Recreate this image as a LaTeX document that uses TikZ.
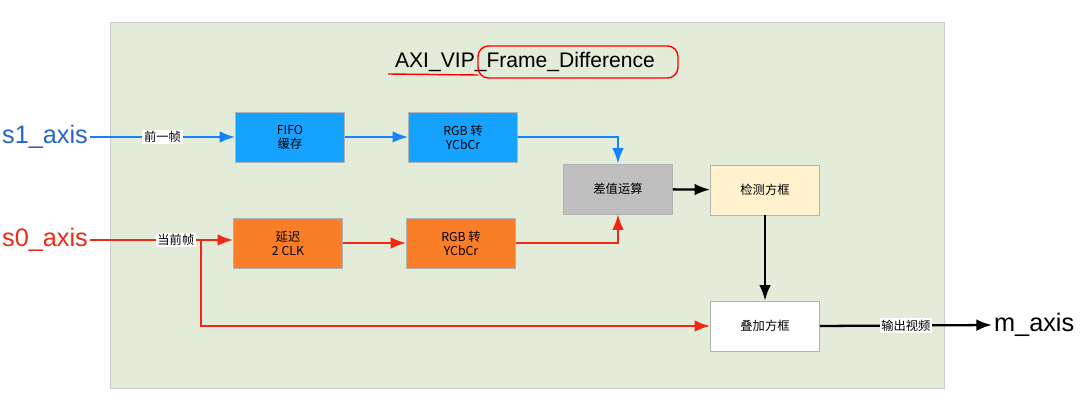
\documentclass[tikz,border=0pt]{standalone}
\usepackage{fontspec}
\setmainfont{Liberation Sans}
\newfontfamily\cjk{Noto Sans CJK SC}
\usetikzlibrary{arrows.meta}
\definecolor{bgreen}{RGB}{226,236,216}
\definecolor{fifoblue}{RGB}{22,163,255}
\definecolor{dlyorange}{RGB}{250,125,40}
\definecolor{diffgray}{RGB}{191,191,191}
\definecolor{detyellow}{RGB}{255,242,204}
\definecolor{sblue}{RGB}{40,100,200}
\definecolor{sred}{RGB}{240,40,20}
\begin{document}
\begin{tikzpicture}[x=0.02cm, y=-0.02cm, font=\cjk\scriptsize, >=Latex]
    \tikzset{blk/.style = {draw=gray!60, minimum width=2.18cm, minimum height=1cm, align=center, inner sep=1pt}}
    \tikzset{blue_arrow/.style = {->, fifoblue!80!blue, line width=1.3pt}}
    \tikzset{red_arrow/.style = {->, sred, line width=1.3pt}}
    \tikzset{black_arrow/.style = {->, black, line width=1.3pt}}
    \tikzset{lbl/.style = {fill=white, inner sep=1pt, text=black}}

    \useasboundingbox (0,0) rectangle (1088,418);
    \fill[bgreen] (110,22) rectangle (944,388);
    \draw[gray!40] (110,22) rectangle (944,388);

    \node[font=\large] (title) at (525,62) {AXI\_VIP\_Frame\_Difference};
    \draw[red, thick, rounded corners=6pt] (478,46) rectangle (678,78);
    \draw[red, thick] (388,74) -- (478,75);

    \node[blk, fill=fifoblue] (fifo) at (290,137) {FIFO\\缓存};
    \node[blk, fill=fifoblue] (rgb1) at (463,137) {RGB 转\\YCbCr};
    \node[blk, fill=dlyorange] (dly) at (288,243) {延迟\\2 CLK};
    \node[blk, fill=dlyorange] (rgb0) at (461,243) {RGB 转\\YCbCr};
    \node[blk, fill=diffgray] (diff) at (618,189) {差值运算};
    \node[blk, fill=detyellow] (det) at (765,190) {检测方框};
    \node[blk, fill=white] (add) at (765,326) {叠加方框};

    \node[font=\Large, text=sblue, anchor=east, inner sep=1pt] (s1) at (90,137) {s1\_axis};
    \node[font=\Large, text=sred, anchor=east, inner sep=1pt] (s0) at (90,240) {s0\_axis};
    \node[font=\Large, anchor=west, inner sep=1pt] (m) at (992,325) {m\_axis};
    \coordinate (br) at (201,240);

    \draw[blue_arrow] (s1.east) -- node[lbl] {前一帧} (fifo.west);
    \draw[blue_arrow] (fifo) -- (rgb1);
    \draw[blue_arrow] (rgb1.east) -| (diff.north);
    \draw[red_arrow] (s0.east) -- node[lbl, pos=0.6] {当前帧} (dly.west |- s0.east);
    \draw[red_arrow] (dly) -- (rgb0);
    \draw[red_arrow] (rgb0.east) -| (diff.south);
    \draw[red_arrow] (br) |- (add.west);
    \draw[black_arrow] (diff) -- (det);
    \draw[black_arrow] (det) -- (add);
    \draw[black_arrow] (add.east) -- node[lbl] {输出视频} (m.west);
\end{tikzpicture}
\end{document}
